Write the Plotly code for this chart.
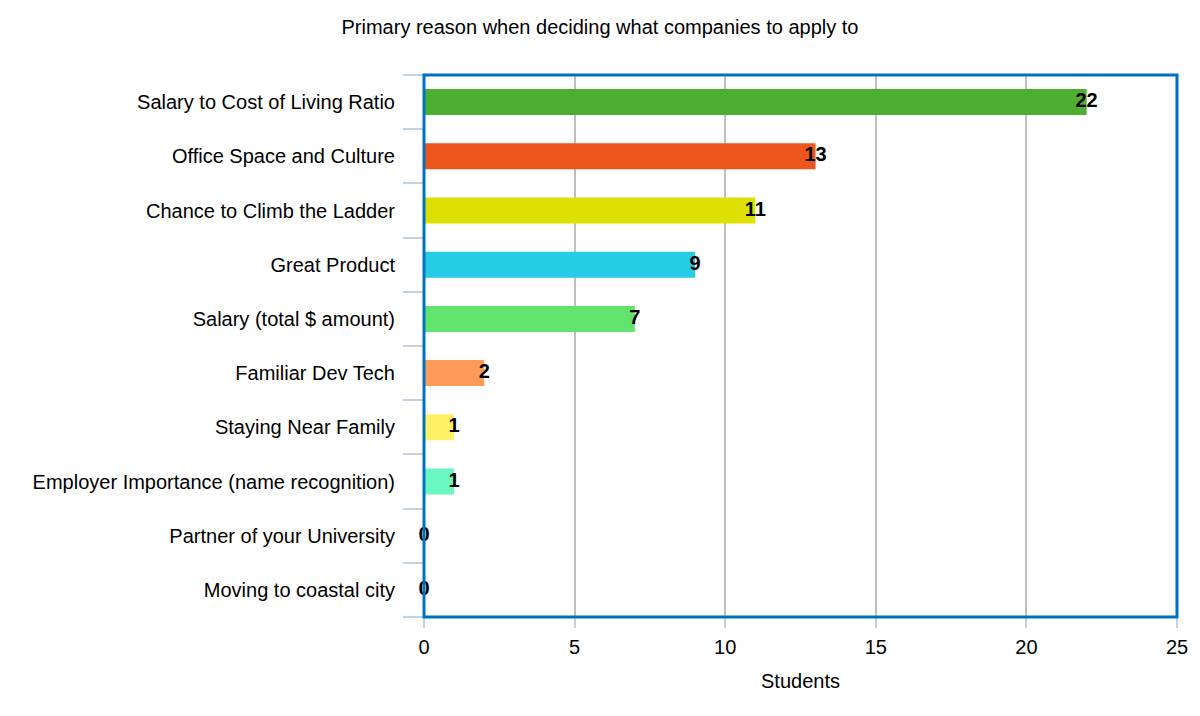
import plotly.graph_objects as go

categories = [
    "Salary to Cost of Living Ratio",
    "Office Space and Culture",
    "Chance to Climb the Ladder",
    "Great Product",
    "Salary (total $ amount)",
    "Familiar Dev Tech",
    "Staying Near Family",
    "Employer Importance (name recognition)",
    "Partner of your University",
    "Moving to coastal city",
]
values = [22, 13, 11, 9, 7, 2, 1, 1, 0, 0]
colors = ["#4caf32", "#ec561c", "#dde000", "#26cbe4", "#62e36e",
          "#ff9a5a", "#fff066", "#6af7c0", "#8ab4f8", "#cccccc"]
x_ticks = [0, 5, 10, 15, 20, 25]

FONT = "Liberation Sans, Arial, sans-serif"
FS = 20

fig = go.Figure()
fig.add_trace(go.Bar(
    y=categories, x=values, orientation="h",
    marker=dict(color=colors, line=dict(width=0)),
    showlegend=False, hoverinfo="x+y",
))
fig.add_trace(go.Scatter(
    y=categories, x=values, mode="text",
    text=[str(v) for v in values],
    textposition="middle center",
    textfont=dict(family=FONT, size=20, color="black", weight="bold"),
    cliponaxis=False,
    showlegend=False, hoverinfo="skip",
))

fig.update_layout(
    width=1200, height=716,
    margin=dict(l=424, r=21, t=75, b=99),
    paper_bgcolor="white", plot_bgcolor="white",
    bargap=0.52,
    font=dict(family=FONT, size=FS, color="black"),
    title=dict(text="Primary reason when deciding what companies to apply to",
               x=0.5, xanchor="center", y=0.962, yanchor="middle",
               font=dict(family=FONT, size=FS, color="black")),
    xaxis=dict(
        range=[0, 25], tickvals=x_ticks, ticktext=[str(t) for t in x_ticks],
        showgrid=True, gridcolor="#bfbfbf", gridwidth=2,
        zeroline=False, showline=False,
        ticks="outside", ticklen=10, tickcolor="#c3d0e0", tickwidth=2,
        ticklabelstandoff=2,
        tickfont=dict(family=FONT, size=FS, color="black"),
        title=dict(text="Students", font=dict(family=FONT, size=FS, color="black"),
                   standoff=16),
    ),
    yaxis=dict(
        categoryorder="array", categoryarray=categories[::-1],
        showgrid=False, zeroline=False, showline=False,
        ticks="outside", ticklen=20, tickcolor="#c3d0e0", tickwidth=2,
        tickson="boundaries",
        ticklabelstandoff=28,
        tickfont=dict(family=FONT, size=FS, color="black"),
    ),
    shapes=[dict(type="rect", xref="paper", yref="paper", x0=0, x1=1, y0=0, y1=1,
                 line=dict(color="#0070c0", width=3), fillcolor="rgba(0,0,0,0)",
                 layer="above")],
)

fig.write_html("out.html")
